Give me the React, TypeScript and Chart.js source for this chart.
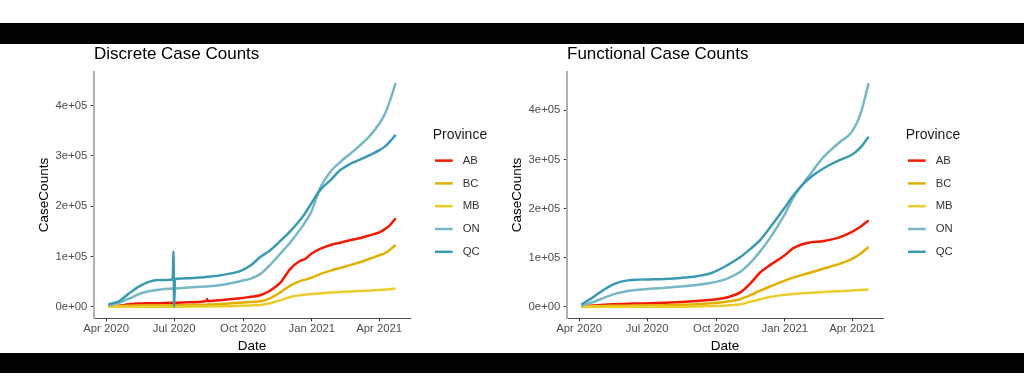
import React, { useEffect, useRef } from 'react';
import { Chart, registerables } from 'chart.js';

Chart.register(...registerables);

// ---------- data ----------
const provinces = ['AB', 'BC', 'MB', 'ON', 'QC'];
const provinceColors = ['#F21A00', '#E1AF00', '#EBCC2A', '#78B7C5', '#3B9AB2'];

const discreteDates = [
  '2020-04-04', '2020-04-18', '2020-05-02', '2020-05-16', '2020-05-30', '2020-06-13',
  '2020-06-29', '2020-06-30', '2020-07-01', '2020-07-02', '2020-07-20', '2020-08-13',
  '2020-08-14', '2020-08-15', '2020-09-06', '2020-09-27', '2020-10-11', '2020-10-24',
  '2020-11-06', '2020-11-20', '2020-12-03', '2020-12-16', '2020-12-23', '2020-12-31',
  '2021-01-12', '2021-01-26', '2021-02-08', '2021-02-21', '2021-03-07', '2021-03-20',
  '2021-04-02', '2021-04-09', '2021-04-15', '2021-04-23',
];
const discreteAB = [
  1000, 2000, 5000, 6500, 7000, 7300, 8000, 8000, 8100, 8100, 9000, 11500,
  15500, 11600, 14000, 17000, 20000, 23000, 32000, 48000, 75000, 91000, 95000, 105000,
  115000, 123000, 127500, 132500, 137000, 142500, 148500, 155000, 162000, 176000,
];
const discreteBC = [
  1000, 1600, 2100, 2400, 2600, 2700, 2900, 2900, 2950, 2950, 3300, 4300,
  4400, 4500, 6000, 8000, 9500, 11000, 17000, 29000, 42000, 51000, 54000, 57500,
  65000, 72000, 77500, 83000, 89000, 96000, 103000, 107000, 113000, 123000,
];
const discreteMB = [
  200, 250, 270, 280, 290, 300, 320, 320, 320, 320, 400, 500,
  500, 500, 1200, 2000, 2800, 3800, 7000, 13000, 19500, 23000, 24200, 25300,
  26700, 28500, 29500, 30500, 31500, 32500, 33500, 34200, 35000, 36600,
];
const discreteON = [
  3000, 8000, 16500, 26000, 31500, 34500, 36300, 36400, 36500, 36600, 38300, 40500,
  40600, 40700, 44500, 51000, 56000, 65000, 83000, 106000, 128000, 153000, 168000, 188000,
  236000, 269000, 288000, 304000, 322000, 341000, 366000, 385000, 408000, 444700,
];
const discreteQC = [
  5400, 11000, 27000, 41000, 50500, 53200, 54500, 110000, 0, 55500, 57000, 59500,
  59600, 59700, 64000, 71000, 82000, 99000, 112000, 131000, 150000, 172000, 186000, 205000,
  232000, 252000, 272000, 284000, 293000, 302000, 312000, 319000, 328000, 342000,
];

const functionalDates = [
  '2020-04-04', '2020-04-20', '2020-05-05', '2020-05-20', '2020-06-05', '2020-06-20',
  '2020-07-05', '2020-07-25', '2020-08-15', '2020-09-05', '2020-09-25', '2020-10-15',
  '2020-11-03', '2020-11-16', '2020-11-29', '2020-12-13', '2020-12-31', '2021-01-13',
  '2021-01-31', '2021-02-22', '2021-03-16', '2021-03-31', '2021-04-12', '2021-04-23',
];
const functionalAB = [
  1500, 3000, 4500, 5500, 6500, 7000, 7500, 8500, 10000, 12000, 14500, 19000,
  30000, 48000, 70000, 86000, 104000, 120000, 130000, 134000, 142000, 152000, 163000, 176000,
];
const functionalBC = [
  800, 1500, 2000, 2300, 2600, 2800, 3000, 3500, 4300, 5500, 7500, 10500,
  16000, 24000, 33000, 42000, 53000, 60000, 68000, 78000, 88000, 97000, 108000, 122000,
];
const functionalMB = [
  200, 250, 280, 300, 320, 340, 360, 420, 520, 900, 1700, 3000,
  5500, 10500, 15500, 20500, 24500, 26500, 28500, 30500, 32000, 33300, 34500, 35400,
];
const functionalON = [
  3000, 10000, 19000, 27000, 32500, 35000, 37000, 39000, 41500, 44500, 49000, 57000,
  72000, 90000, 113000, 142000, 186000, 224000, 262000, 305000, 336000, 355000, 392000, 455000,
];
const functionalQC = [
  5000, 20000, 36000, 48000, 54000, 55500, 56000, 57000, 59000, 62500, 69000, 84000,
  102000, 118000, 136000, 163000, 200000, 228000, 258000, 282000, 299000, 309000, 324000, 346000,
];

const xTickDates = ['2020-04-01', '2020-07-01', '2020-10-01', '2021-01-01', '2021-04-01'];
const xTickLabels = ['Apr 2020', 'Jul 2020', 'Oct 2020', 'Jan 2021', 'Apr 2021'];
const yTickValues = [0, 100000, 200000, 300000, 400000];
const yTickLabels = ['0e+00', '1e+05', '2e+05', '3e+05', '4e+05'];

const legendTitle = 'Province';
const xAxisTitle = 'Date';
const yAxisTitle = 'CaseCounts';

// ---------- helpers ----------
const FONT = '"Liberation Sans", Arial, sans-serif';
const ORIGIN = Date.UTC(2020, 3, 1);
const toDay = (s: string) => (Date.parse(s + 'T00:00:00Z') - ORIGIN) / 86400000;

const legendPlugin = {
  id: 'provinceLegend',
  afterDraw(chart: any) {
    const ctx = chart.ctx;
    const area = chart.chartArea;
    ctx.save();
    ctx.textAlign = 'left';
    ctx.textBaseline = 'middle';
    ctx.font = `14px ${FONT}`;
    ctx.fillStyle = '#1a1a1a';
    ctx.fillText(legendTitle, area.right + 22.7, area.top + 63);
    chart.data.datasets.forEach((ds: any, i: number) => {
      const y = area.top + 88.6 + i * 22.8;
      ctx.strokeStyle = ds.borderColor;
      ctx.lineWidth = 2.5;
      ctx.beginPath();
      ctx.moveTo(area.right + 25, y);
      ctx.lineTo(area.right + 42.7, y);
      ctx.stroke();
      ctx.font = `11.3px ${FONT}`;
      ctx.fillStyle = '#333333';
      ctx.fillText(ds.label, area.right + 52.7, y);
    });
    ctx.restore();
  },
};

function makeConfig(title: string, dates: string[], series: number[][], rightPad: number): any {
  const xs = dates.map(toDay);
  const all = series.flat();
  const dmin = Math.min(...all);
  const dmax = Math.max(...all);
  const xmin = Math.min(...xs);
  const xmax = Math.max(...xs);
  const yPad = (dmax - dmin) * 0.05;
  const xPad = (xmax - xmin) * 0.05;
  const tickFont = { family: FONT, size: 11.3 };
  return {
    type: 'line',
    data: {
      datasets: provinces.map((p, i) => ({
        label: p,
        data: xs.map((x, j) => ({ x, y: series[i][j] })),
        borderColor: provinceColors[i],
        backgroundColor: provinceColors[i],
        borderWidth: 2.5,
        pointRadius: 0,
        fill: false,
        cubicInterpolationMode: 'monotone',
        order: provinces.length - i,
      })),
    },
    options: {
      responsive: false,
      animation: false,
      devicePixelRatio: 1,
      layout: { padding: { left: 0, right: rightPad, top: 0, bottom: 0 } },
      plugins: {
        legend: { display: false },
        tooltip: { enabled: false },
        title: {
          display: true,
          text: title,
          align: 'start',
          fullSize: false,
          color: '#000000',
          font: { family: FONT, size: 17, weight: 'normal' },
          padding: { top: 43.8, bottom: 7.8 },
        },
      },
      scales: {
        x: {
          type: 'linear',
          min: xmin - xPad,
          max: xmax + xPad,
          afterBuildTicks: (s: any) => {
            s.ticks = xTickDates.map((d) => ({ value: toDay(d) }));
          },
          afterFit: (s: any) => {
            s.height = 62;
          },
          ticks: {
            autoSkip: false,
            maxRotation: 0,
            padding: 1.1,
            color: '#4d4d4d',
            font: tickFont,
            callback: (v: number) => xTickLabels[xTickDates.findIndex((d) => toDay(d) === v)],
          },
          grid: { drawOnChartArea: false, drawTicks: true, tickLength: 3.3, color: '#333333' },
          border: { display: true, color: '#4d4d4d', width: 1 },
          title: {
            display: true,
            text: xAxisTitle,
            color: '#000000',
            font: { family: FONT, size: 13.5 },
            padding: { top: 0, bottom: 25.6 },
          },
        },
        y: {
          type: 'linear',
          min: dmin - yPad,
          max: dmax + yPad,
          afterBuildTicks: (s: any) => {
            s.ticks = yTickValues.map((v) => ({ value: v }));
          },
          afterFit: (s: any) => {
            s.width = 94;
          },
          ticks: {
            padding: 3.4,
            color: '#4d4d4d',
            font: tickFont,
            callback: (v: number) => yTickLabels[yTickValues.indexOf(v)],
          },
          grid: { drawOnChartArea: false, drawTicks: true, tickLength: 3.3, color: '#333333' },
          border: { display: true, color: '#b0b0b0', width: 2 },
          title: {
            display: true,
            text: yAxisTitle,
            color: '#000000',
            font: { family: FONT, size: 13.5 },
            padding: { top: 36, bottom: 0 },
          },
        },
      },
    },
    plugins: [legendPlugin],
  };
}

export default function App() {
  const leftRef = useRef<HTMLCanvasElement | null>(null);
  const rightRef = useRef<HTMLCanvasElement | null>(null);

  useEffect(() => {
    const left = new Chart(
      leftRef.current as HTMLCanvasElement,
      makeConfig(
        'Discrete Case Counts',
        discreteDates,
        [discreteAB, discreteBC, discreteMB, discreteON, discreteQC],
        102,
      ),
    );
    const right = new Chart(
      rightRef.current as HTMLCanvasElement,
      makeConfig(
        'Functional Case Counts',
        functionalDates,
        [functionalAB, functionalBC, functionalMB, functionalON, functionalQC],
        141,
      ),
    );
    return () => {
      left.destroy();
      right.destroy();
    };
  }, []);

  return (
    <div
      style={{
        position: 'fixed',
        left: 0,
        top: 0,
        width: 1024,
        height: 380,
        background: '#ffffff',
        overflow: 'hidden',
      }}
    >
      <canvas
        ref={leftRef}
        width={512}
        height={380}
        style={{ position: 'absolute', left: 0, top: 0, width: 512, height: 380 }}
      />
      <canvas
        ref={rightRef}
        width={551}
        height={380}
        style={{ position: 'absolute', left: 473, top: 0, width: 551, height: 380 }}
      />
      <div style={{ position: 'absolute', left: 0, top: 23, width: 1024, height: 21, background: '#000' }} />
      <div style={{ position: 'absolute', left: 0, top: 353, width: 1024, height: 20, background: '#000' }} />
    </div>
  );
}
